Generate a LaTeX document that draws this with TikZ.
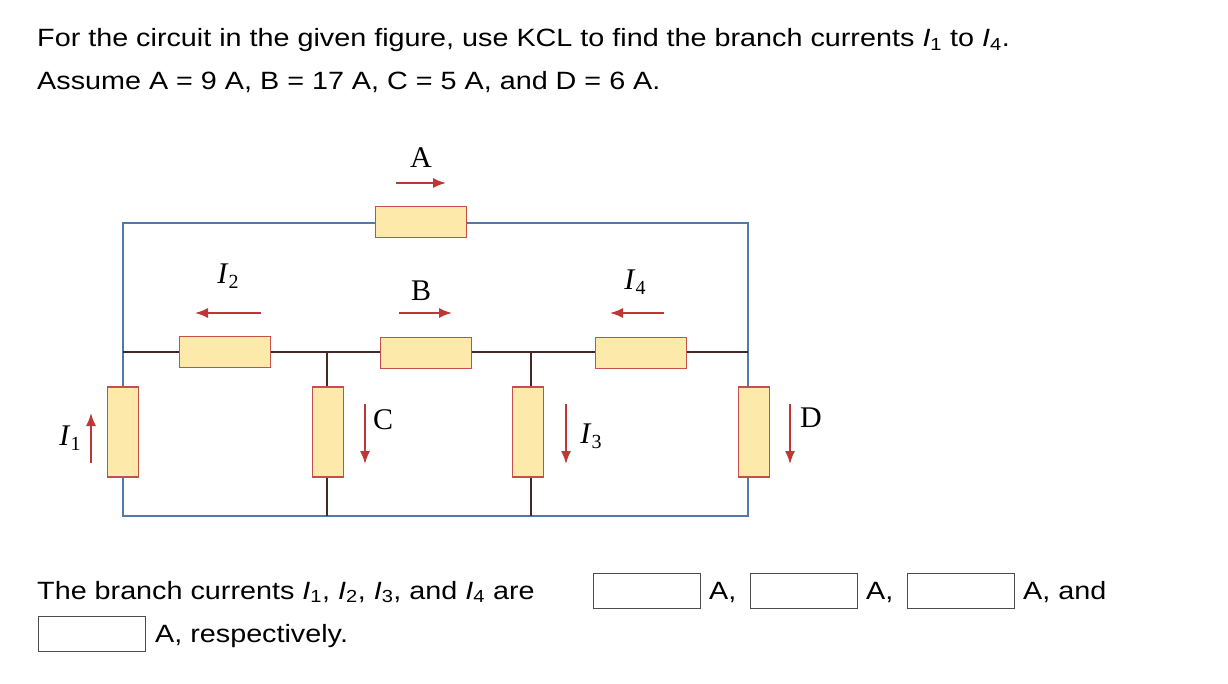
\documentclass[tikz,border=0pt]{standalone}
\usepackage{fontspec}
\usetikzlibrary{arrows.meta}
\setmainfont[FakeStretch=1.15]{Liberation Sans}
\newfontfamily\serifc{Liberation Serif}
\definecolor{wireb}{RGB}{85,120,170}
\definecolor{wired}{RGB}{70,40,40}
\definecolor{resd}{RGB}{195,80,75}
\definecolor{resf}{RGB}{253,233,170}
\definecolor{arrc}{RGB}{190,55,55}
\begin{document}
\begin{tikzpicture}[x=1pt,y=-1pt,
  res/.style={draw=resd,fill=resf,line width=1.5pt,inner sep=0},
  hres/.style={res,minimum width=91pt,minimum height=31pt},
  vres/.style={res,minimum width=31pt,minimum height=90pt},
  bw/.style={draw=wireb,line width=1.4pt},
  dw/.style={draw=wired,line width=1.3pt},
  arr/.style={draw=arrc,line width=1.6pt,-{Latex[length=13pt,width=10pt]}},
  lab/.style={font=\serifc\fontsize{30}{32}\selectfont,inner sep=0},
  txt/.style={font=\fontsize{25}{30}\selectfont,anchor=base west,inner sep=0},
  ans/.style={draw=black!70,line width=1pt,minimum width=107pt,minimum height=35pt,inner sep=0}]
\useasboundingbox (0,0) rectangle (1228,684);
\node[txt] (t1) at (37,47) {For the circuit in the given figure, use KCL to find the branch currents \textit{I}\textsubscript{1} to \textit{I}\textsubscript{4}.};
\node[txt] (t2) at (37,90) {Assume A = 9 A, B = 17 A, C = 5 A, and D = 6 A.};
% coordinates
\coordinate (tl) at (123,223); \coordinate (tr) at (748,223);
\coordinate (ml) at (123,352); \coordinate (mr) at (748,352);
\coordinate (j1) at (327,352); \coordinate (j2) at (531,352);
\coordinate (bl) at (123,516); \coordinate (br) at (748,516);
\coordinate (b1) at (327,516); \coordinate (b2) at (531,516);
\draw[bw] (ml) -- (tl) -- (tr) -- (mr);
\draw[bw] (ml) -- (bl) -- (br) -- (mr);
\draw[dw] (ml) -- (mr);
\draw[dw] (j1) -- (b1); \draw[dw] (j2) -- (b2);
\node[hres] (RA) at (421,222) {};
\node[hres] (R2) at (225,352) {};
\node[hres] (RB) at (426,353) {};
\node[hres] (R4) at (641,353) {};
\node[vres] (R1) at (123,432) {};
\node[vres] (RC) at (328,432) {};
\node[vres] (R3) at (528,432) {};
\node[vres] (RD) at (754,432) {};
% arrows and labels
\node[lab] (LA) at (421,158) {A};
\coordinate (a1) at (396,183); \coordinate (a2) at (446,183);
\draw[arr] (a1) -- (a2);
\node[lab] (L2) at (228,276) {\textit{I}\raisebox{-5pt}{\fontsize{20}{20}\selectfont 2}};
\coordinate (c1) at (261,313); \coordinate (c2) at (195,313);
\draw[arr] (c1) -- (c2);
\node[lab] (LB) at (421,291) {B};
\coordinate (d1) at (399,313); \coordinate (d2) at (452,313);
\draw[arr] (d1) -- (d2);
\node[lab] (L4) at (635,282) {\textit{I}\raisebox{-5pt}{\fontsize{20}{20}\selectfont 4}};
\coordinate (e1) at (664,313); \coordinate (e2) at (610,313);
\draw[arr] (e1) -- (e2);
\node[lab] (LC) at (383,420) {C};
\coordinate (f1) at (365,404); \coordinate (f2) at (365,464);
\draw[arr] (f1) -- (f2);
\node[lab] (L3) at (591,436) {\textit{I}\raisebox{-5pt}{\fontsize{20}{20}\selectfont 3}};
\coordinate (g1) at (566,404); \coordinate (g2) at (566,464);
\draw[arr] (g1) -- (g2);
\node[lab] (LD) at (811,418) {D};
\coordinate (h1) at (790,404); \coordinate (h2) at (790,464);
\draw[arr] (h1) -- (h2);
\node[lab] (L1) at (70,438) {\textit{I}\raisebox{-5pt}{\fontsize{20}{20}\selectfont 1}};
\coordinate (k1) at (91,463); \coordinate (k2) at (91,413);
\draw[arr] (k1) -- (k2);
% bottom text
\node[txt] (t3) at (37,599) {The branch currents \textit{I}\textsubscript{1}, \textit{I}\textsubscript{2}, \textit{I}\textsubscript{3}, and \textit{I}\textsubscript{4} are};
\node[ans] (x1) at (647,591) {};
\node[txt] (u1) at (709,599) {A,};
\node[ans] (x2) at (804,591) {};
\node[txt] (u2) at (866,599) {A,};
\node[ans] (x3) at (961,591) {};
\node[txt] (u3) at (1023,599) {A, and};
\node[ans] (x4) at (92,634) {};
\node[txt] (u4) at (155,642) {A, respectively.};
\end{tikzpicture}
\end{document}
